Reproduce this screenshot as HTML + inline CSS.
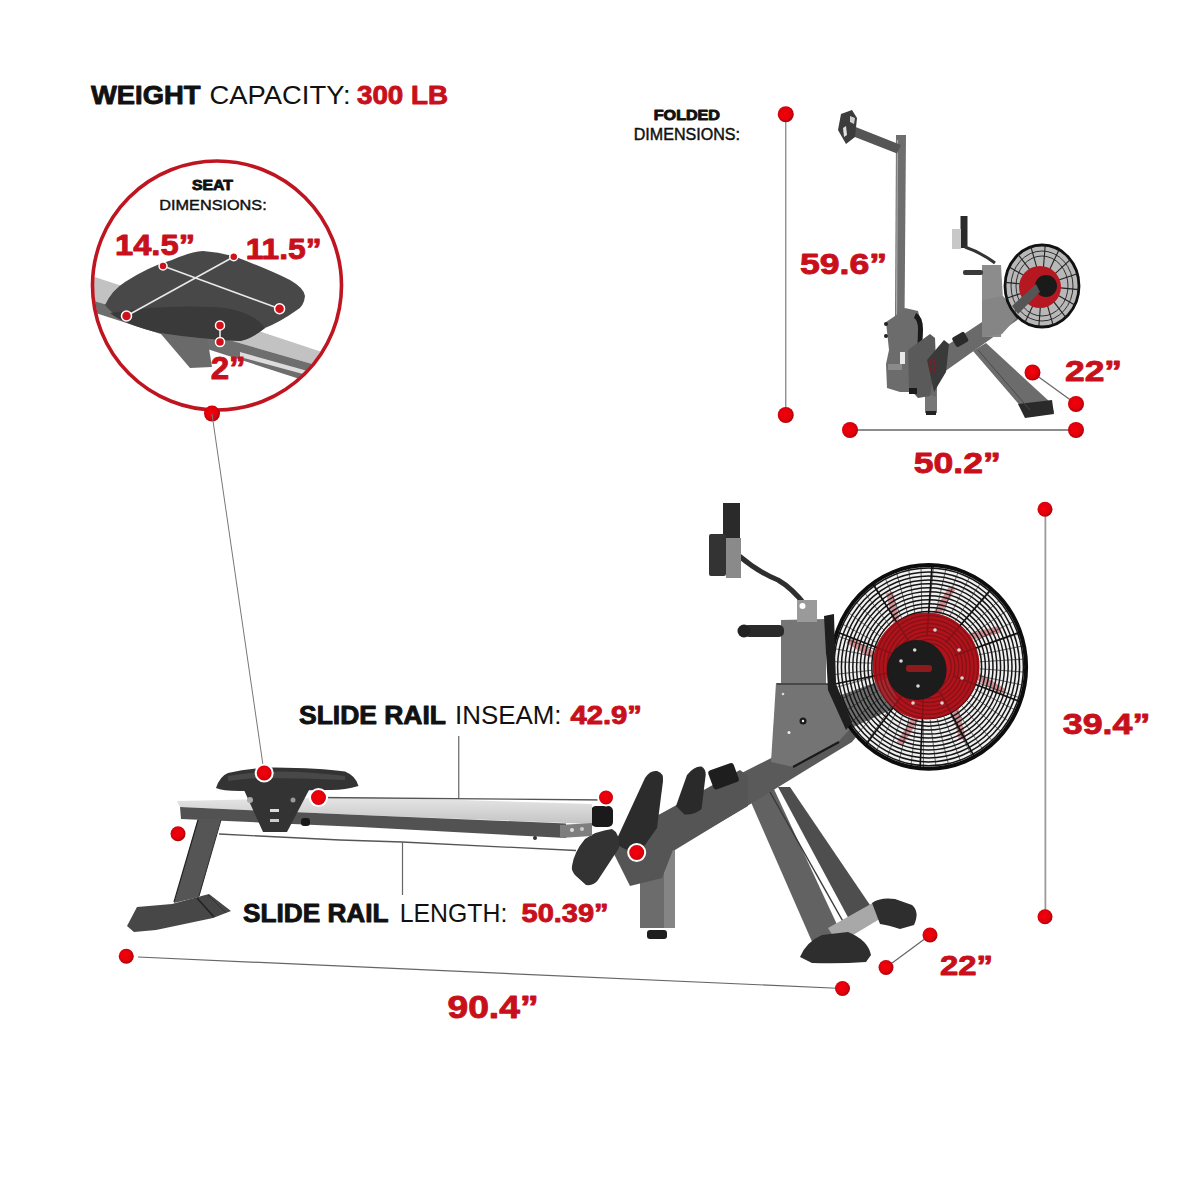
<!DOCTYPE html>
<html><head><meta charset="utf-8">
<style>
html,body{margin:0;padding:0;background:#fff;width:1200px;height:1200px;overflow:hidden}
svg{display:block}
text{font-family:"Liberation Sans",sans-serif}
.b{font-weight:bold;stroke-linejoin:round}
.k.b{stroke:#111;stroke-width:0.9}
.r.b{stroke:#c8101c;stroke-width:0.9}
.k{fill:#111}
.r{fill:#c8101c}
</style></head><body>
<svg width="1200" height="1200" viewBox="0 0 1200 1200">
<defs><radialGradient id="dotg" cx="0.45" cy="0.45" r="0.55"><stop offset="0" stop-color="#f5000c"/><stop offset="0.7" stop-color="#e0000a"/><stop offset="1" stop-color="#a8000a"/></radialGradient></defs>
<rect width="1200" height="1200" fill="#fff"/>
<!-- TITLE -->
<text x="91" y="103.5" font-size="26" class="b k" textLength="109.5" lengthAdjust="spacingAndGlyphs">WEIGHT</text>
<text x="209.5" y="103.5" font-size="26" class="k" textLength="141" lengthAdjust="spacingAndGlyphs">CAPACITY:</text>
<text x="357" y="103.5" font-size="26" class="b r" textLength="91" lengthAdjust="spacingAndGlyphs">300 LB</text>

<!-- SEAT CIRCLE -->
<!-- seat closeup -->
<g id="seatclose">
<defs><clipPath id="cc"><circle cx="217" cy="285.5" r="123"/></clipPath></defs>
<g clip-path="url(#cc)">
<polygon points="80,272 340,358 340,372 80,297" fill="#c2c2c2"/>
<polygon points="80,297 340,372 340,392 80,308" fill="#6e6e6e"/>
<polygon points="240,352 340,380 340,384 240,357" fill="#dcdcdc"/>
</g>
<polygon points="161,334 207,336 212,367 190,368" fill="#6a6a6a"/>
<path d="M105,305 Q112,290 125,282 Q150,266 172,260 Q190,252 203,251 Q220,252 236,257 Q270,270 290,280 Q304,288 305,296 Q304,306 297,310 Q280,322 265,328 Q252,338 240,341 Q215,340 194,336 Q160,332 140,327 Q115,318 105,305 Z" fill="#484848"/>
<path d="M110,313 Q160,305 210,307 Q250,308 265,328 Q250,340 240,341 Q200,339 160,333 Q125,325 110,313 Z" fill="#3a3a3a"/>
<line x1="163" y1="266" x2="279.6" y2="308.75" stroke="#e8e8e8" stroke-width="1.6"/>
<line x1="233.75" y1="256.7" x2="126.5" y2="316" stroke="#e8e8e8" stroke-width="1.6"/>
<line x1="220" y1="325" x2="220" y2="342" stroke="#e8e8e8" stroke-width="1.6"/>
<g fill="#d0101a" stroke="#fff" stroke-width="1.5">
<circle cx="163" cy="266" r="4"/>
<circle cx="233.75" cy="256.7" r="4"/>
<circle cx="126.5" cy="316" r="5"/>
<circle cx="279.6" cy="308.75" r="5"/>
<circle cx="220" cy="325.4" r="4.5"/>
<circle cx="220" cy="342" r="4.5"/>
</g>
</g>

<circle cx="217" cy="285.5" r="124.5" fill="none" stroke="#bf1520" stroke-width="3.6"/>
<text x="192" y="190" font-size="14.5" class="b k" textLength="41" lengthAdjust="spacingAndGlyphs">SEAT</text>
<text x="159.3" y="209.5" font-size="15.5" class="k" stroke="#111" stroke-width="0.45" textLength="107.4" lengthAdjust="spacingAndGlyphs">DIMENSIONS:</text>
<text x="115" y="255" font-size="29" class="b r" textLength="80" lengthAdjust="spacingAndGlyphs">14.5”</text>
<text x="245.7" y="258.5" font-size="29" class="b r" textLength="76" lengthAdjust="spacingAndGlyphs">11.5”</text>
<text x="210.7" y="378.7" font-size="31" class="b r" textLength="35" lengthAdjust="spacingAndGlyphs">2”</text>
<circle cx="212" cy="413.6" r="8" fill="url(#dotg)"/>
<line x1="212" y1="414" x2="264" y2="772" stroke="#777" stroke-width="1"/>

<!-- FOLDED -->
<text x="653.75" y="120" font-size="14" class="b k" textLength="66.25" lengthAdjust="spacingAndGlyphs">FOLDED</text>
<text x="633.75" y="140" font-size="16" class="k" stroke="#111" stroke-width="0.45" textLength="106.25" lengthAdjust="spacingAndGlyphs">DIMENSIONS:</text>
<text x="800" y="273.75" font-size="29" class="b r" textLength="87" lengthAdjust="spacingAndGlyphs">59.6”</text>
<text x="1065" y="381" font-size="29" class="b r" textLength="57" lengthAdjust="spacingAndGlyphs">22”</text>
<text x="913.75" y="472.5" font-size="30" class="b r" textLength="87" lengthAdjust="spacingAndGlyphs">50.2”</text>
<line x1="785.75" y1="114" x2="785.75" y2="415" stroke="#888" stroke-width="1.3"/>
<line x1="850" y1="430" x2="1076" y2="430" stroke="#666" stroke-width="1.3"/>
<line x1="1032.5" y1="372.5" x2="1076" y2="404" stroke="#666" stroke-width="1.2"/>
<g fill="url(#dotg)">
<circle cx="785.75" cy="114.25" r="8"/>
<circle cx="785.75" cy="415" r="8"/>
<circle cx="850" cy="430" r="8"/>
<circle cx="1076" cy="430" r="8"/>
<circle cx="1032.5" cy="372.5" r="8"/>
<circle cx="1076" cy="404" r="8"/>
</g>


<!-- ===== FOLDED MACHINE ===== -->
<g id="folded">
<!-- rear leg -->
<polygon points="973,351 986,343 1050,402 1054,412 1030,417 1022,408" fill="#6c6c6c"/>
<polygon points="1018,404 1052,400 1054,414 1025,418" fill="#2a2a2a"/>
<line x1="978" y1="350" x2="1030" y2="410" stroke="#4a4a4a" stroke-width="1"/>
<!-- front post -->
<rect x="925" y="383" width="12" height="30" fill="#777"/>
<rect x="926" y="411" width="10" height="4" fill="#222"/>
<!-- beam -->
<polygon points="925,393 940,350 1015,300 1036,284 1040,292 1020,318 937,377 936,397" fill="#6a6a6a"/>
<!-- housing column -->
<polygon points="982,265 1001,265 1003,300 1001,337 982,337" fill="#8c8c8c"/>
<polygon points="982,300 1003,296 1020,314 1002,334 982,337" fill="#858585"/>
<rect x="953" y="334" width="14" height="11" rx="2" fill="#2a2a2a" transform="rotate(-30 960 339)"/>
<!-- handle -->
<rect x="963" y="270" width="20" height="5" rx="2" fill="#3a3a3a"/>
<!-- monitor -->
<rect x="960.5" y="216" width="7" height="32" fill="#2a2a2a"/>
<rect x="952" y="229" width="9" height="20" fill="#c8c8c8"/>
<path d="M965,247 Q980,252 995,263" fill="none" stroke="#333" stroke-width="3"/>
<!-- fan -->
<ellipse cx="1042" cy="286" rx="37" ry="41" fill="#b8b8b8"/>
<g fill="none" stroke="#222" stroke-width="1" opacity="0.9">
<ellipse cx="1042" cy="286" rx="31" ry="35"/>
<ellipse cx="1042" cy="286" rx="26" ry="30"/>
</g>
<ellipse cx="1042" cy="286" rx="37" ry="41" fill="none" stroke="#111" stroke-width="2.8"/>
<g stroke="#222" stroke-width="1.1"><line x1="1057.9" y1="287.6" x2="1078.9" y2="289.6"/><line x1="1056.2" y1="294.3" x2="1074.8" y2="304.9"/><line x1="1052.3" y1="299.8" x2="1065.8" y2="317.4"/><line x1="1046.8" y1="303.2" x2="1053.1" y2="325.1"/><line x1="1040.6" y1="303.9" x2="1038.8" y2="326.8"/><line x1="1034.6" y1="302.0" x2="1024.9" y2="322.4"/><line x1="1029.7" y1="297.6" x2="1013.7" y2="312.4"/><line x1="1026.7" y1="291.4" x2="1006.7" y2="298.3"/><line x1="1026.1" y1="284.4" x2="1005.1" y2="282.4"/><line x1="1027.8" y1="277.7" x2="1009.2" y2="267.1"/><line x1="1031.7" y1="272.2" x2="1018.2" y2="254.6"/><line x1="1037.2" y1="268.8" x2="1030.9" y2="246.9"/><line x1="1043.4" y1="268.1" x2="1045.2" y2="245.2"/><line x1="1049.4" y1="270.0" x2="1059.1" y2="249.6"/><line x1="1054.3" y1="274.4" x2="1070.3" y2="259.6"/><line x1="1057.3" y1="280.6" x2="1077.3" y2="273.7"/></g>
<circle cx="1040" cy="287" r="21" fill="#b51820"/>
<circle cx="1046" cy="286" r="11" fill="#1a1a1a"/>
<polygon points="1012,306 1036,284 1040,292 1018,314" fill="#555"/>
<!-- rail vertical -->
<polygon points="896,135 906,135 904.5,322 895,322" fill="#6e6e6e"/>
<line x1="897.5" y1="140" x2="896.5" y2="320" stroke="#aaa" stroke-width="1.2"/>
<!-- top handle bar -->
<polygon points="855,126.8 901,145 897,153.6 851,135.4" fill="#555"/>
<polygon points="841,114 852,110 857,118 855,137 846,144 838,130" fill="#3c3c3c"/>
<polygon points="843,128 846,126 847,135 844,137" fill="#e0e0e0"/><polygon points="850,116 855,118 854,124 850,122" fill="#cfcfcf"/>
<!-- rail-end / seat assembly -->
<polygon points="886,322 895,316 905,308 918,311 923,330 921,360 914,392 900,392 887,388 886,364 889,350" fill="#6c6c6c"/>
<rect x="900" y="352" width="5" height="12" fill="#e8e8e8"/>
<rect x="888" y="364" width="14" height="6" fill="#8a8a8a"/>
<path d="M916,313 Q923,316 923,330 L921,362 L917,362 L918,330 Q918,320 914,318 Z" fill="#1a1a1a"/>
<circle cx="886" cy="324" r="2" fill="#222"/><circle cx="886" cy="336" r="2" fill="#222"/>
<!-- footrests -->
<polygon points="908,350 930,334 935,338 936,362 930,396 918,398 909,388" fill="#5a5a5a"/>
<polygon points="927,360 944,340 949,344 946,372 934,392" fill="#3a3a3a"/>
<rect x="909" y="388" width="8" height="6" fill="#1a1a1a"/>
<ellipse cx="932.4" cy="365.4" rx="3" ry="6" fill="none" stroke="#8a1820" stroke-width="1.5"/>
</g>

<!-- MAIN TEXTS -->
<text x="299" y="723.5" font-size="25" class="b k" textLength="147" lengthAdjust="spacingAndGlyphs">SLIDE RAIL</text>
<text x="455" y="723.5" font-size="25" class="k" textLength="106.5" lengthAdjust="spacingAndGlyphs">INSEAM:</text>
<text x="570.5" y="723.5" font-size="25" class="b r" textLength="71.5" lengthAdjust="spacingAndGlyphs">42.9”</text>
<text x="243" y="921.9" font-size="25" class="b k" textLength="145.6" lengthAdjust="spacingAndGlyphs">SLIDE RAIL</text>
<text x="399.7" y="921.9" font-size="25" class="k" textLength="107.6" lengthAdjust="spacingAndGlyphs">LENGTH:</text>
<text x="521.6" y="921.9" font-size="25" class="b r" textLength="87" lengthAdjust="spacingAndGlyphs">50.39”</text>
<text x="1062.8" y="734" font-size="30" class="b r" textLength="87.5" lengthAdjust="spacingAndGlyphs">39.4”</text>
<text x="447.5" y="1017.5" font-size="31" class="b r" textLength="91" lengthAdjust="spacingAndGlyphs">90.4”</text>
<text x="940" y="975" font-size="28" class="b r" textLength="53" lengthAdjust="spacingAndGlyphs">22”</text>


<!-- ===== MAIN MACHINE ===== -->
<g id="main">
<!-- rear legs -->
<polygon points="778,787 790,787 872,908 850,921" fill="#4e4e4e"/>
<polygon points="750,800 773,787 840,931 813,944" fill="#626262"/>
<line x1="770" y1="792" x2="845" y2="925" stroke="#3a3a3a" stroke-width="1.5"/>
<!-- crossbar + feet -->
<polygon points="828,928 878,900 888,914 838,944" fill="#a8a8a8"/>
<path d="M872,903 Q880,897 895,899 L912,905 Q920,912 914,925 L900,929 Q888,925 880,924 Z" fill="#2e2e2e"/>
<path d="M800,957 Q806,942 822,935 L848,932 Q868,940 871,955 L866,962 Q840,964 812,963 Z" fill="#2e2e2e"/>
<!-- front post -->
<rect x="640" y="845" width="35" height="83" fill="#6c6c6c"/>
<rect x="664" y="848" width="11" height="80" fill="#858585"/>
<rect x="647" y="930" width="20" height="9" rx="3" fill="#1e1e1e"/>
<!-- beam -->
<polygon points="653,818 846,720 860,705 870,720 852,742 675,850 655,852" fill="#5a5a5a"/>
<polygon points="781,620 826,619 826,684 781,684" fill="#767676"/>
<polygon points="776,683 837,684 852,727 837,743 793,767 771,762" fill="#747474"/>
<line x1="793" y1="767" x2="839" y2="742" stroke="#1a1a1a" stroke-width="2.2"/>
<line x1="777" y1="684" x2="837" y2="684" stroke="#3a3a3a" stroke-width="1.5"/>
<circle cx="803" cy="721" r="3.5" fill="#1a1a1a"/><circle cx="803" cy="721" r="1.2" fill="#eee"/>
<circle cx="789" cy="732.5" r="1.5" fill="#eee"/><circle cx="783" cy="694" r="1.3" fill="#ddd"/>
<!-- housing -->
<!-- housing moved -->
<!-- handle -->
<rect x="744" y="625" width="40" height="12" rx="5" fill="#2a2a2a"/>
<circle cx="744" cy="631" r="6.5" fill="#222"/>
<!-- monitor arm -->
<path d="M738,555 Q758,572 778,580 Q792,588 806,606" fill="none" stroke="#2e2e2e" stroke-width="5"/>
<rect x="797" y="600" width="20" height="22" fill="#9a9a9a"/>
<circle cx="802.5" cy="606" r="3" fill="#fff"/>
<rect x="723" y="503" width="17" height="35" fill="#2a2a2a"/>
<rect x="709" y="534" width="17" height="42" rx="2" fill="#333"/>
<rect x="726" y="538" width="15" height="40" fill="#8a8a8a"/>
<!-- fan -->
<g id="fan">
<ellipse cx="928.6" cy="666.9" rx="99" ry="103.3" fill="#f0f0f0"/>
<line x1="934.7" y1="616.8" x2="952.1" y2="588.3" stroke="#b8202a" stroke-width="7" opacity="0.45"/>
<line x1="967.0" y1="637.3" x2="999.4" y2="629.5" stroke="#b8202a" stroke-width="7" opacity="0.45"/>
<line x1="975.2" y1="674.7" x2="1003.7" y2="692.1" stroke="#b8202a" stroke-width="7" opacity="0.45"/>
<line x1="954.7" y1="707.0" x2="962.5" y2="739.4" stroke="#b8202a" stroke-width="7" opacity="0.45"/>
<line x1="917.3" y1="715.2" x2="899.9" y2="743.7" stroke="#b8202a" stroke-width="7" opacity="0.45"/>
<line x1="885.0" y1="694.7" x2="852.6" y2="702.5" stroke="#b8202a" stroke-width="7" opacity="0.45"/>
<line x1="876.8" y1="657.3" x2="848.3" y2="639.9" stroke="#b8202a" stroke-width="7" opacity="0.45"/>
<line x1="897.3" y1="625.0" x2="889.5" y2="592.6" stroke="#b8202a" stroke-width="7" opacity="0.45"/>
<circle cx="926" cy="666" r="53.5" fill="#b3121b"/>
<polygon points="836,697 893,676 897,707 847,730" fill="#6e6e6e"/>
<g fill="none" stroke="#141414" stroke-width="1.5"><ellipse cx="928.6" cy="666.9" rx="94.8" ry="98.9"/><ellipse cx="928.6" cy="666.9" rx="91.0" ry="95.0"/><ellipse cx="928.6" cy="666.9" rx="87.2" ry="91.0"/><ellipse cx="928.6" cy="666.9" rx="83.4" ry="87.0"/><ellipse cx="928.6" cy="666.9" rx="79.6" ry="83.1"/><ellipse cx="928.6" cy="666.9" rx="75.8" ry="79.1"/><ellipse cx="928.6" cy="666.9" rx="72.0" ry="75.1"/><ellipse cx="928.6" cy="666.9" rx="68.2" ry="71.2"/><ellipse cx="928.6" cy="666.9" rx="64.4" ry="67.2"/><ellipse cx="928.6" cy="666.9" rx="60.6" ry="63.2"/><ellipse cx="928.6" cy="666.9" rx="56.8" ry="59.3"/><ellipse cx="928.6" cy="666.9" rx="53.0" ry="55.3"/><ellipse cx="928.6" cy="666.9" rx="49.2" ry="51.3"/><ellipse cx="928.6" cy="666.9" rx="45.4" ry="47.4"/><ellipse cx="928.6" cy="666.9" rx="41.6" ry="43.4"/><ellipse cx="928.6" cy="666.9" rx="37.8" ry="39.4"/><ellipse cx="928.6" cy="666.9" rx="34.0" ry="35.5"/><ellipse cx="928.6" cy="666.9" rx="30.2" ry="31.5"/><ellipse cx="928.6" cy="666.9" rx="26.4" ry="27.5"/><ellipse cx="928.6" cy="666.9" rx="22.6" ry="23.6"/></g>
<g stroke="#1a1a1a" stroke-width="0.8" opacity="0.8"><line x1="979.9" y1="668.8" x2="1025.5" y2="672.2"/><line x1="979.1" y1="675.8" x2="1024.0" y2="685.4"/><line x1="977.4" y1="682.7" x2="1020.9" y2="698.2"/><line x1="974.7" y1="689.2" x2="1016.2" y2="710.5"/><line x1="971.3" y1="695.4" x2="1010.0" y2="722.1"/><line x1="967.1" y1="701.1" x2="1002.4" y2="732.7"/><line x1="962.1" y1="706.1" x2="993.5" y2="742.2"/><line x1="956.6" y1="710.5" x2="983.5" y2="750.4"/><line x1="950.5" y1="714.1" x2="972.6" y2="757.2"/><line x1="944.0" y1="716.9" x2="961.0" y2="762.4"/><line x1="937.2" y1="718.8" x2="948.8" y2="766.0"/><line x1="930.2" y1="719.8" x2="936.2" y2="767.9"/><line x1="923.2" y1="719.9" x2="923.5" y2="768.1"/><line x1="916.2" y1="719.1" x2="910.9" y2="766.5"/><line x1="909.3" y1="717.4" x2="898.6" y2="763.2"/><line x1="902.8" y1="714.7" x2="886.8" y2="758.3"/><line x1="896.6" y1="711.3" x2="875.8" y2="751.9"/><line x1="890.9" y1="707.1" x2="865.6" y2="743.9"/><line x1="885.9" y1="702.1" x2="856.5" y2="734.7"/><line x1="881.5" y1="696.6" x2="848.7" y2="724.3"/><line x1="877.9" y1="690.5" x2="842.2" y2="712.9"/><line x1="875.1" y1="684.0" x2="837.2" y2="700.7"/><line x1="873.2" y1="677.2" x2="833.7" y2="688.0"/><line x1="872.2" y1="670.2" x2="831.9" y2="674.8"/><line x1="872.1" y1="663.2" x2="831.7" y2="661.6"/><line x1="872.9" y1="656.2" x2="833.2" y2="648.4"/><line x1="874.6" y1="649.3" x2="836.3" y2="635.6"/><line x1="877.3" y1="642.8" x2="841.0" y2="623.3"/><line x1="880.7" y1="636.6" x2="847.2" y2="611.7"/><line x1="884.9" y1="630.9" x2="854.8" y2="601.1"/><line x1="889.9" y1="625.9" x2="863.7" y2="591.6"/><line x1="895.4" y1="621.5" x2="873.7" y2="583.4"/><line x1="901.5" y1="617.9" x2="884.6" y2="576.6"/><line x1="908.0" y1="615.1" x2="896.2" y2="571.4"/><line x1="914.8" y1="613.2" x2="908.4" y2="567.8"/><line x1="921.8" y1="612.2" x2="921.0" y2="565.9"/><line x1="928.8" y1="612.1" x2="933.7" y2="565.7"/><line x1="935.8" y1="612.9" x2="946.3" y2="567.3"/><line x1="942.7" y1="614.6" x2="958.6" y2="570.6"/><line x1="949.2" y1="617.3" x2="970.4" y2="575.5"/><line x1="955.4" y1="620.7" x2="981.4" y2="581.9"/><line x1="961.1" y1="624.9" x2="991.6" y2="589.9"/><line x1="966.1" y1="629.9" x2="1000.7" y2="599.1"/><line x1="970.5" y1="635.4" x2="1008.5" y2="609.5"/><line x1="974.1" y1="641.5" x2="1015.0" y2="620.9"/><line x1="976.9" y1="648.0" x2="1020.0" y2="633.1"/><line x1="978.8" y1="654.8" x2="1023.5" y2="645.8"/><line x1="979.8" y1="661.8" x2="1025.3" y2="659.0"/></g>
<g stroke="#111" stroke-width="1.6"><line x1="927.0" y1="636.0" x2="932.1" y2="563.7"/><line x1="908.8" y1="641.4" x2="871.8" y2="582.3"/><line x1="897.8" y1="655.7" x2="835.6" y2="631.6"/><line x1="896.5" y1="671.2" x2="831.1" y2="684.8"/><line x1="906.7" y1="689.0" x2="865.0" y2="746.0"/><line x1="923.4" y1="695.9" x2="920.0" y2="769.8"/><line x1="940.1" y1="692.5" x2="975.1" y2="758.1"/><line x1="954.2" y1="676.3" x2="1021.6" y2="702.2"/><line x1="954.2" y1="655.7" x2="1021.6" y2="631.6"/><line x1="945.3" y1="643.0" x2="992.2" y2="587.8"/></g>
<circle cx="926" cy="666" r="53" fill="#b3121b" opacity="0.72"/>
<ellipse cx="928.6" cy="666.9" rx="97.5" ry="101.8" fill="none" stroke="#0d0d0d" stroke-width="4"/>
<circle cx="916.7" cy="670" r="30" fill="#1c1c1c"/>
<rect x="906" y="665" width="26" height="7" rx="3" fill="#8e1a1e"/>
<g fill="#d8d8d8"><circle cx="914.7" cy="650" r="1.8"/><circle cx="901" cy="661" r="1.8"/><circle cx="918" cy="686" r="1.8"/><circle cx="935" cy="630" r="1.8"/><circle cx="959" cy="650" r="1.8"/><circle cx="962" cy="678" r="1.8"/><circle cx="942" cy="703" r="1.8"/><circle cx="913" cy="703" r="1.8"/></g>
<polygon points="824,616 834,614 836,684 852,722 846,730 828,690" fill="#1e1e1e"/>
</g>
<!-- footrest -->
<polygon points="612,850 640,826 653,818 740,770 748,776 748,806 673,850 662,878 630,886" fill="#555"/>
<path d="M676,806 L687,775 Q694,766 701.5,766.5 Q706,769 705.7,775 L701.5,809 Q695,815 684.5,814.6 Z" fill="#2a2a2a"/>
<rect x="710" y="766" width="27" height="20" rx="3" fill="#1e1e1e" transform="rotate(-20 724 776)"/>
<rect x="591" y="806" width="22" height="21" rx="5" fill="#1a1a1a"/>
<path d="M615,843 L645,778 Q650,770 657,771 Q664,773 663,781 L657,828 L640,852 Q628,853 615,843 Z" fill="#2c2c2c"/>
<path d="M572,866 Q574,852 585,839 Q596,831 612,829 Q620,833 619,848 L598,880 Q594,886 586,885 L576,876 Q571,871 572,866 Z" fill="#333"/>
<!-- rail -->
<defs><linearGradient id="railg" x1="0" y1="0" x2="0" y2="1"><stop offset="0" stop-color="#e6e6e6"/><stop offset="1" stop-color="#c4c4c4"/></linearGradient></defs><polygon points="177,801 360,797 592,804 592,824 360,815 180,807" fill="url(#railg)"/>
<polygon points="180,807 360,815 566,823.5 566,838 360,827 181,819" fill="#525252"/>
<!-- rod connector -->
<polygon points="560,825 592,823 592,836 560,838" fill="#7e7e7e"/><circle cx="572" cy="830" r="2" fill="#ddd"/><circle cx="582" cy="829" r="2" fill="#ccc"/><circle cx="535" cy="838" r="2" fill="#333"/>
<!-- front leg -->
<polygon points="198,819 221,819 199,897 174,903" fill="#555"/><line x1="198" y1="820" x2="174" y2="902" stroke="#222" stroke-width="1.2"/><line x1="221" y1="820" x2="199" y2="896" stroke="#2a2a2a" stroke-width="1"/>
<polygon points="127,926 137,907 172,904 209,894 231,911 213,918 156,930 134,932" fill="#474747"/>
<line x1="197" y1="898" x2="214" y2="917" stroke="#222" stroke-width="1.5"/><line x1="208" y1="895" x2="226" y2="913" stroke="#333" stroke-width="1"/>
<!-- seat -->
<polygon points="244,790 309,790 287,832 263,832" fill="#333"/>
<rect x="270" y="809" width="9" height="3" fill="#ddd"/>
<rect x="270" y="819" width="9" height="3" fill="#ccc"/>
<circle cx="250" cy="800" r="3" fill="#aaa"/>
<circle cx="293" cy="800" r="2.5" fill="#999"/>
<rect x="301" y="818" width="9" height="8" rx="3" fill="#1a1a1a"/>
<path d="M216,788 Q220,776 228,773 Q250,768 274,767.5 Q320,768 345,771.5 Q356,776 358.5,786 Q345,790 331.7,790 L240,791 Q222,791 216,788 Z" fill="#333"/>
<path d="M228,776 Q260,770 300,772 Q330,774 345,776 L345,780 Q300,778 260,778 Q240,779 228,781 Z" fill="#484848"/>
</g>

<!-- MAIN LINES -->
<line x1="318" y1="797.5" x2="606" y2="800" stroke="#555" stroke-width="1.3"/>
<polyline points="219,834 340,840 402,842 576,850.5" fill="none" stroke="#555" stroke-width="1.3"/>
<g fill="url(#dotg)" stroke="#fff" stroke-width="2">
<circle cx="264.2" cy="773" r="8.5"/>
<circle cx="318.5" cy="797.5" r="8.5"/>
<circle cx="606" cy="797.5" r="8"/>
<circle cx="636.7" cy="852.5" r="8.5"/>
</g>

<line x1="1045.4" y1="509.5" x2="1045.4" y2="916.8" stroke="#999" stroke-width="1.8"/>
<line x1="138" y1="957" x2="842.5" y2="988.5" stroke="#666" stroke-width="1.2"/>
<line x1="886" y1="967.5" x2="930" y2="935" stroke="#666" stroke-width="1.2"/>
<line x1="458.75" y1="736" x2="458.75" y2="798" stroke="#666" stroke-width="1.2"/>
<line x1="402.5" y1="842" x2="402.5" y2="895" stroke="#666" stroke-width="1.2"/>
<g fill="url(#dotg)">
<circle cx="1045" cy="509.3" r="7.5"/>
<circle cx="1045" cy="916.8" r="7.5"/>
<circle cx="126.25" cy="956.25" r="7.5"/>
<circle cx="842.5" cy="988.5" r="7.5"/>
<circle cx="886" cy="967.5" r="7.5"/>
<circle cx="930" cy="935" r="7.5"/>
<circle cx="178" cy="833.75" r="7.5"/>
</g>
</svg>
</body></html>
